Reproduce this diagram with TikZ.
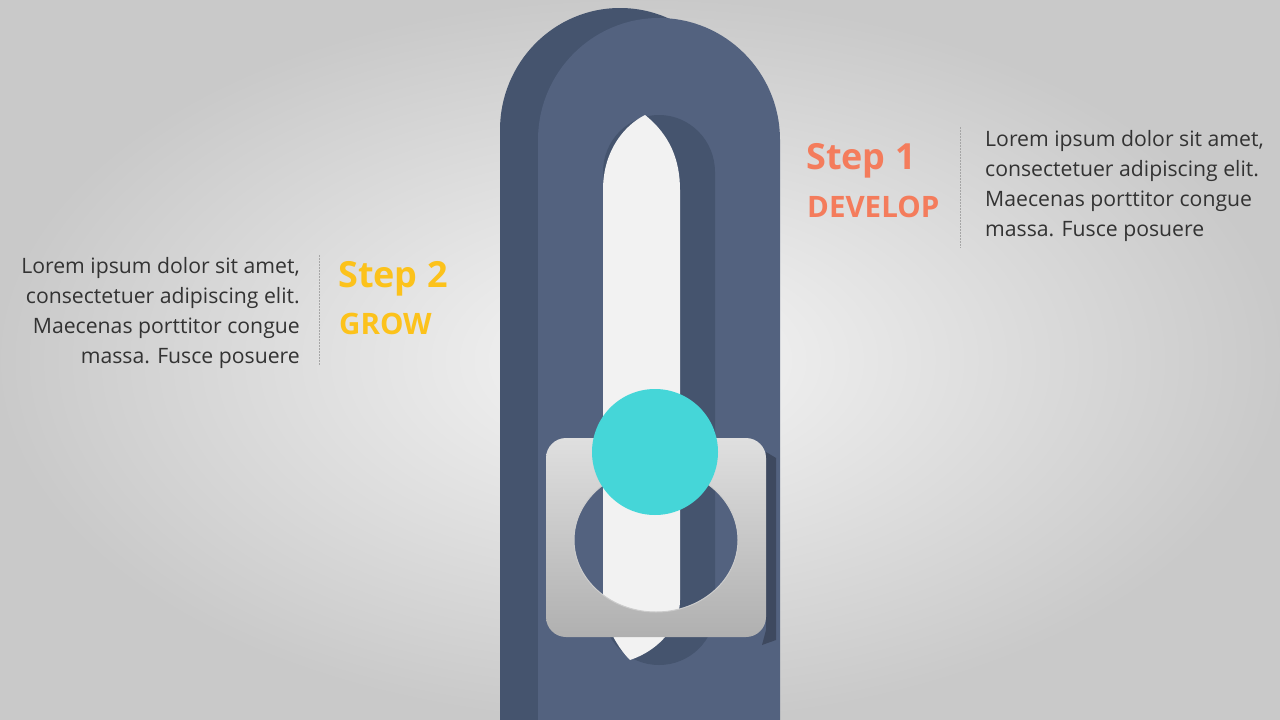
\documentclass[tikz,border=0pt]{standalone}
\usepackage{fontspec}
\setmainfont{Open Sans}
\begin{document}
\begin{tikzpicture}[x=1pt,y=-1pt,
  body/.style={font=\fontsize{21.2}{30}\selectfont, text=black!80, inner sep=0pt},
  stepA/.style={font=\fontsize{36}{38}\bfseries\selectfont, inner sep=0pt, anchor=west},
  stepB/.style={font=\fontsize{29.5}{31}\bfseries\selectfont, inner sep=0pt, anchor=west},
  sep/.style={draw=gray!70, dash pattern=on 1.5pt off 1.5pt, line width=0.6pt}]
\definecolor{ringfront}{HTML}{53627F}
\definecolor{ringback}{HTML}{45546E}
\definecolor{orangeS}{HTML}{F47C5C}
\definecolor{yellowS}{HTML}{FCC21B}
\definecolor{cyanC}{HTML}{45D6D8}
\useasboundingbox (0,0) rectangle (1280,720);
\shade[inner color=gray!7, outer color=gray!42] (0,0) rectangle (1280,720);
% back ring
\fill[ringback] (500,130) arc[start angle=180,end angle=360,x radius=120,y radius=122] -- (740,900) -- (500,900) -- cycle;
% front ring
\fill[ringfront] (538,140) arc[start angle=180,end angle=360,x radius=121,y radius=122] -- (780,900) -- (538,900) -- cycle;
% hole (inner wall)
\fill[ringback] (603,172) arc[start angle=180,end angle=360,x radius=56,y radius=57] -- (715,610) arc[start angle=0,end angle=180,x radius=56,y radius=55] -- cycle;
% see-through area
\fill[white!90!gray] (603,190) .. controls (603,150) and (625,125) .. (645,115) .. controls (670,135) and (680,160) .. (680,190) -- (680,600) .. controls (680,625) and (660,650) .. (630,660) .. controls (615,645) and (603,620) .. (603,600) -- cycle;
% frame shadow on right edge
\fill[black, opacity=0.25] (766,452) -- (776,458) -- (776,640) -- (762,645) -- (766,630) -- cycle;
% frame
\shade[top color=gray!25, bottom color=gray!62, even odd rule]
  [rounded corners=20] (546,438) rectangle (766,637)
  [sharp corners] (656,540) ellipse[x radius=82, y radius=72];
\draw[white!60!gray, line width=1pt] (656,540) ellipse[x radius=82, y radius=72];
% cyan circle
\fill[cyanC] (655,452) circle[radius=63];
% texts right
\node[stepA, text=orangeS] (s1) at (806,161) {Step 1};
\node[stepB, text=orangeS] (d1) at (807,207) {DEVELOP};
\coordinate (l1a) at (960,127); \coordinate (l1b) at (960,248);
\draw[sep] (l1a) -- (l1b);
\node[body, anchor=north west, align=left] (t1) at (985,130) {Lorem ipsum dolor sit amet,\\consectetuer adipiscing elit.\\Maecenas porttitor congue\\massa. Fusce posuere};
% texts left
\node[stepA, text=yellowS] (s2) at (338,279) {Step 2};
\node[stepB, text=yellowS] (d2) at (339,324) {GROW};
\coordinate (l2a) at (319,255); \coordinate (l2b) at (319,365);
\draw[sep] (l2a) -- (l2b);
\node[body, anchor=north east, align=right] (t2) at (300,257) {Lorem ipsum dolor sit amet,\\consectetuer adipiscing elit.\\Maecenas porttitor congue\\massa. Fusce posuere};
\end{tikzpicture}
\end{document}
